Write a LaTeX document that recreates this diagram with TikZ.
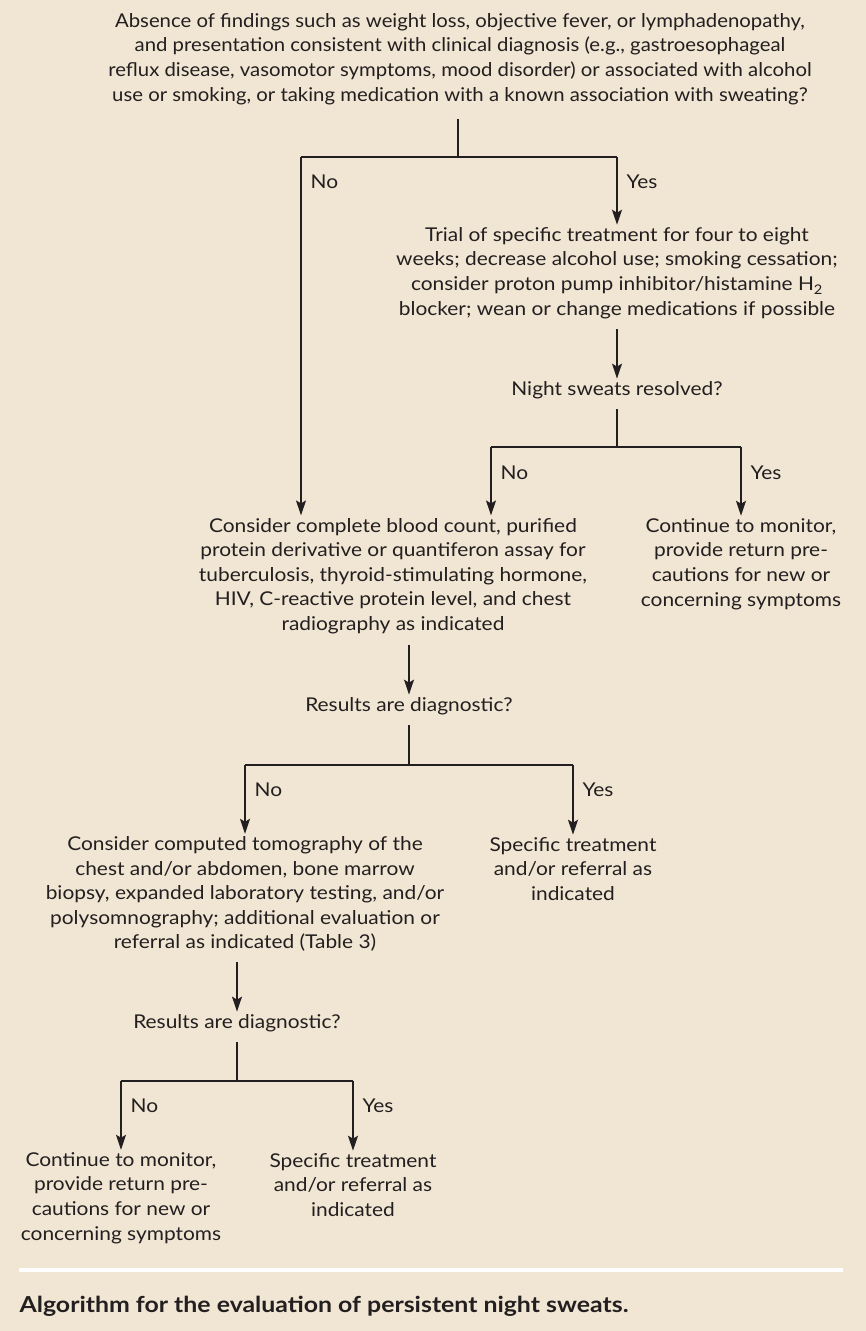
\documentclass[tikz,border=0pt]{standalone}
\usepackage{fontspec}
\usepackage{tikz}
\usetikzlibrary{calc,positioning,arrows.meta}
\newfontfamily\bodyfont[FakeStretch=1.1]{Lato}
\newfontfamily\condfont[FakeStretch=1.07]{Lato}
\newfontfamily\capfont[FakeStretch=1.13]{Lato Bold}
\definecolor{beige}{HTML}{F1E6D3}
\definecolor{ink}{HTML}{231F20}
\tikzset{
  txt/.style={align=center, inner sep=2pt, text=ink, font=\bodyfont\fontsize{19}{24.6}\selectfont},
  qtxt/.style={txt, font=\condfont\fontsize{19}{24.6}\selectfont},
  lbl/.style={inner sep=0pt, text=ink, font=\bodyfont\fontsize{19}{24.6}\selectfont},
  arr/.style={-{Stealth[length=15pt,width=10pt,inset=3pt]}},
}
\begin{document}
\begin{tikzpicture}[x=1pt,y=-1pt,line width=1.3pt,draw=ink]
          \fill[beige] (0,0) rectangle (866,1331);
          \useasboundingbox (0,0) rectangle (866,1331);
          % first question
          \node[qtxt] (q1) at (460,59) {Absence of findings such as weight loss, objective fever, or lymphadenopathy,\\
            and presentation consistent with clinical diagnosis (e.g., gastroesophageal\\
            reflux disease, vasomotor symptoms, mood disorder) or associated with alcohol\\
            use or smoking, or taking medication with a known association with sweating?};
          \node[txt] (t1) at (617,273) {Trial of specific treatment for four to eight\\
            weeks; decrease alcohol use; smoking cessation;\\
            consider proton pump inhibitor/histamine H\textsubscript{2}\\
            blocker; wean or change medications if possible};
          \node[txt] (q2) at (617,390) {Night sweats resolved?};
          \node[txt] (c1) at (393,576) {Consider complete blood count, purified\\
            protein derivative or quantiferon assay for\\
            tuberculosis, thyroid-stimulating hormone,\\
            HIV, C-reactive protein level, and chest\\
            radiography as indicated};
          \node[txt] (m1) at (741,564) {Continue to monitor,\\ provide return pre-\\ cautions for new or\\ concerning symptoms};
          \node[txt] (q3) at (409,706) {Results are diagnostic?};
          \node[txt] (c2) at (245,894) {Consider computed tomography of the\\
            chest and/or abdomen, bone marrow\\
            biopsy, expanded laboratory testing, and/or\\
            polysomnography; additional evaluation or\\
            referral as indicated (Table 3)};
          \node[txt] (s1) at (573,869) {Specific treatment\\ and/or referral as\\ indicated};
          \node[txt] (q4) at (237,1023) {Results are diagnostic?};
          \node[txt] (m2) at (121,1198) {Continue to monitor,\\ provide return pre-\\ cautions for new or\\ concerning symptoms};
          \node[txt] (s2) at (353,1185) {Specific treatment\\ and/or referral as\\ indicated};
          % junctions
          \coordinate (j1) at (458,157);
          \coordinate (j1l) at (301,157);
          \coordinate (j1r) at (617,157);
          \coordinate (j2) at (617,447);
          \coordinate (j2l) at (491,447);
          \coordinate (j2r) at (741,447);
          \coordinate (j3) at (409,765);
          \coordinate (j3l) at (245,765);
          \coordinate (j3r) at (573,765);
          \coordinate (j4) at (237,1081);
          \coordinate (j4l) at (121,1081);
          \coordinate (j4r) at (353,1081);
          % connectors
          \draw ($(j1 |- q1.south)+(0,12)$) -- (j1);
          \draw (j1l) -- (j1r);
          \draw[arr] (j1l) -- (j1l |- c1.north);
          \draw[arr] (j1r) -- (t1.north);
          \draw[arr] ($(t1.south)+(0,8)$) -- (q2.north);
          \draw ($(q2.south)+(0,8)$) -- (j2);
          \draw (j2l) -- (j2r);
          \draw[arr] (j2l) -- (j2l |- c1.north);
          \draw[arr] (j2r) -- (m1.north);
          \draw[arr] ($(q3.north |- c1.south)+(0,8)$) -- (q3.north);
          \draw ($(q3.south)+(0,8)$) -- (j3);
          \draw (j3l) -- (j3r);
          \draw[arr] (j3l) -- (c2.north);
          \draw[arr] (j3r) -- (s1.north);
          \draw[arr] ($(q4.north |- c2.south)+(0,8)$) -- (q4.north);
          \draw ($(q4.south)+(0,8)$) -- (j4);
          \draw (j4l) -- (j4r);
          \draw[arr] (j4l) -- (m2.north);
          \draw[arr] (j4r) -- (s2.north);
          % yes / no
          \node[lbl, below right=17pt and 9pt of j1l] (n1) {No};
          \node[lbl, below right=17pt and 9pt of j1r] (y1) {Yes};
          \node[lbl, below right=18pt and 9pt of j2l] (n2) {No};
          \node[lbl, below right=18pt and 9pt of j2r] (y2) {Yes};
          \node[lbl, below right=17pt and 9pt of j3l] (n3) {No};
          \node[lbl, below right=17pt and 9pt of j3r] (y3) {Yes};
          \node[lbl, below right=17pt and 9pt of j4l] (n4) {No};
          \node[lbl, below right=17pt and 9pt of j4r] (y4) {Yes};
          % caption
          \draw[white, line width=3.3pt] (19,1270) -- (843,1270);
          \node[anchor=west, inner sep=0pt, text=ink, font=\capfont\fontsize{22}{26}\selectfont] (cap) at (19,1306) {Algorithm for the evaluation of persistent night sweats.};
        \end{tikzpicture}
\end{document}
